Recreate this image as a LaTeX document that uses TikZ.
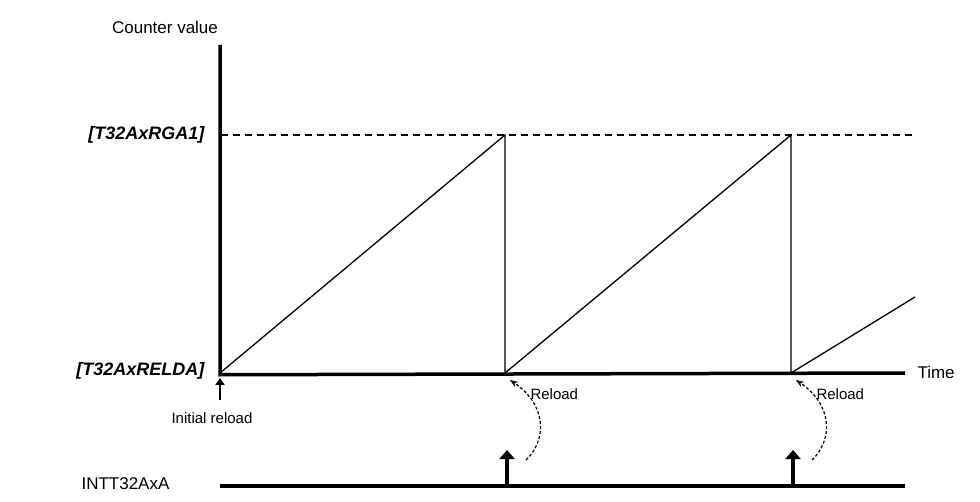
\documentclass[tikz,border=0pt]{standalone}
\usepackage{fontspec}
\setmainfont{Liberation Sans}
\usetikzlibrary{arrows.meta}
\begin{document}
\begin{tikzpicture}[x=1pt,y=-1pt,
  axis/.style={line width=3.5pt},
  thin/.style={line width=1.3pt},
  lbl/.style={font=\fontsize{17}{19}\selectfont},
  reg/.style={font=\fontsize{18}{20}\selectfont\bfseries\itshape, anchor=east},
  bigup/.style={line width=4pt,-{Triangle[length=9pt,width=15pt]}},
  smallup/.style={line width=2.5pt,-{Triangle[length=7pt,width=9pt]}},
  curv/.style={line width=1.2pt,densely dashed,-{Stealth[length=8pt]}}]
\useasboundingbox (0,0) rectangle (980,502);
% axes
\coordinate (o) at (220,373);
\coordinate (ytop) at (220,45);
\coordinate (xend) at (905,373);
\draw[axis] (ytop) -- (220,374.75) -- (xend);
\draw[thin,dash pattern=on 7pt off 5pt] (221,135) -- (915,135);
% sawtooth
\coordinate (p1) at (505,135);
\coordinate (b1) at (505,373);
\coordinate (p2) at (791,135);
\coordinate (b2) at (791,373);
\coordinate (e) at (915,297);
\draw[thin] (o) -- (p1) -- (b1) -- (p2) -- (b2) -- (e);
% labels
\node[lbl] (cv) at (165,27) {Counter value};
\node[reg] (rga) at (208,135) {[T32AxRGA1]};
\node[reg] (rel) at (208,371) {[T32AxRELDA]};
\node[lbl,anchor=west] (time) at (914,372) {Time};
% initial reload
\coordinate (ia0) at (220,400);
\coordinate (ia1) at (220,378);
\draw[smallup] (ia0) -- (ia1);
\node[lbl,font=\fontsize{15}{17}\selectfont] (ir) at (212,418) {Initial reload};
% INTT line
\node[lbl,anchor=west] (intt) at (78,484) {INTT32AxA};
\coordinate (l0) at (220,486);
\coordinate (l1) at (905,486);
\draw[axis] (l0) -- (l1);
\coordinate (u1a) at (507,486);
\coordinate (u1b) at (507,450);
\coordinate (u2a) at (793,486);
\coordinate (u2b) at (793,450);
\draw[bigup] (u1a) -- (u1b);
\draw[bigup] (u2a) -- (u2b);
% curved arrows
\coordinate (c1s) at (526,460);
\coordinate (c1e) at (510,380);
\coordinate (c2s) at (812,460);
\coordinate (c2e) at (796,380);
\draw[curv] (c1s) .. controls (547,440) and (547,405) .. (c1e);
\draw[curv] (c2s) .. controls (833,440) and (833,405) .. (c2e);
\node[lbl,anchor=west,font=\fontsize{15}{17}\selectfont] (r1) at (527,394) {Reload};
\node[lbl,anchor=west,font=\fontsize{15}{17}\selectfont] (r2) at (813,394) {Reload};
\end{tikzpicture}
\end{document}
